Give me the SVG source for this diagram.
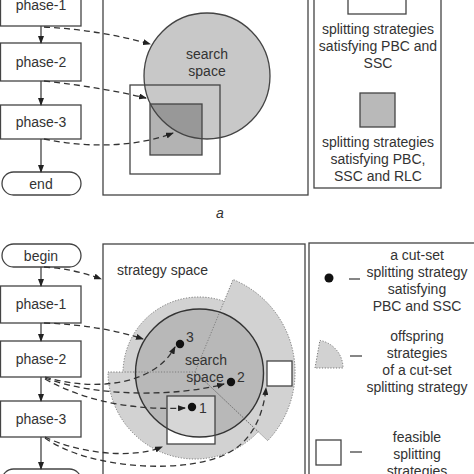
<svg xmlns="http://www.w3.org/2000/svg" width="474" height="474" viewBox="0 0 474 474">
<defs>
<style>
.t{font-family:"Liberation Sans",Arial,sans-serif;font-size:14px;fill:#333}
.c{text-anchor:middle}
.box{fill:#fff;stroke:#444;stroke-width:1.3}
.ln{fill:none;stroke:#444;stroke-width:1.3}
.dash{fill:none;stroke:#333;stroke-width:1.3;stroke-dasharray:6 4}
.dot{stroke:#777;stroke-width:1;stroke-dasharray:1.2 1.6}
</style>
<marker id="ah" markerWidth="8" markerHeight="6" refX="7" refY="3" orient="auto" markerUnits="userSpaceOnUse">
<path d="M0,0 L8,3 L0,6 Z" fill="#222"/>
</marker>
<clipPath id="topc"><circle cx="207" cy="76" r="63"/></clipPath>
</defs>

<!-- top flowchart -->
<g id="t-phase1"><rect class="box" x="0.5" y="-11" width="80.5" height="37"/><text class="t c" x="41" y="10">phase-1</text></g>
<g id="t-phase2"><rect class="box" x="0.5" y="43" width="80.5" height="38"/><text class="t c" x="41" y="67">phase-2</text></g>
<g id="t-phase3"><rect class="box" x="0.5" y="105" width="80.5" height="34"/><text class="t c" x="41" y="127">phase-3</text></g>
<g id="t-end"><rect class="box" x="2" y="172" width="79" height="23" rx="11.5"/><text class="t c" x="41" y="189">end</text></g>

<!-- top space -->
<g id="t-space">
<rect class="box" x="103" y="-5" width="205" height="200"/>
<rect x="150" y="104" width="52" height="51" fill="#b3b3b3"/>
<circle cx="207" cy="76" r="63" fill="#6a6a6a" fill-opacity="0.37"/>
<rect class="ln" x="130" y="85" width="90" height="89"/>
<rect class="ln" x="150" y="104" width="52" height="51"/>
<circle class="ln" cx="207" cy="76" r="63"/>
<text class="t c" x="207" y="59">search</text>
<text class="t c" x="207" y="76">space</text>
</g>
<text class="t" x="216" y="218" font-style="italic">a</text>

<!-- top legend -->
<g id="t-legend">
<rect class="box" x="314" y="-5" width="127" height="193"/>
<rect class="box" x="348" y="-20" width="58" height="34"/>
<text class="t c" x="378" y="34">splitting strategies</text>
<text class="t c" x="378" y="51">satisfying PBC and</text>
<text class="t c" x="378" y="68">SSC</text>
<rect x="360" y="93" width="35" height="34" fill="#b9b9b9" stroke="#444" stroke-width="1.3"/>
<text class="t c" x="378" y="147">splitting strategies</text>
<text class="t c" x="378" y="164">satisfying PBC,</text>
<text class="t c" x="378" y="181">SSC and RLC</text>
</g>

<!-- bottom flowchart -->
<g id="b-begin"><rect class="box" x="2" y="244" width="79" height="23" rx="11.5"/><text class="t c" x="41" y="261">begin</text></g>
<g id="b-phase1"><rect class="box" x="0.5" y="286" width="80.5" height="37"/><text class="t c" x="41" y="309">phase-1</text></g>
<g id="b-phase2"><rect class="box" x="0.5" y="341" width="80.5" height="36"/><text class="t c" x="41" y="364">phase-2</text></g>
<g id="b-phase3"><rect class="box" x="0.5" y="401" width="80.5" height="36"/><text class="t c" x="41" y="424">phase-3</text></g>
<g id="b-end"><rect class="box" x="2" y="469" width="79" height="23" rx="11.5"/></g>

<!-- bottom strategy space -->
<g id="b-space">
<rect class="box" x="103" y="244" width="202" height="240"/>
<text class="t" x="117" y="275">strategy space</text>
<circle cx="199" cy="373" r="76" fill="#d2d2d2" class="dot"/>
<path d="M195,372 L258.2,431.8 A87,87 0 0 1 108,372 Z" fill="#d2d2d2"/>
<path d="M195,372 L233.1,279.5 A100,100 0 0 1 267.7,440.7 Z" fill="#d2d2d2"/>
<path d="M195,372 L258.2,431.8 A87,87 0 0 1 108,372 Z" fill="none" class="dot"/>
<path d="M195,372 L233.1,279.5 A100,100 0 0 1 267.7,440.7 Z" fill="none" class="dot"/>
<rect x="167" y="396" width="48" height="48" fill="#fff"/>
<circle cx="199.5" cy="373" r="64" fill="#8a8a8a" fill-opacity="0.35" stroke="#333" stroke-width="1.4"/>
<rect class="ln" x="167" y="396" width="48" height="48"/>
<rect class="box" x="267" y="361" width="25" height="25"/>
<circle cx="180" cy="344" r="4.2" fill="#111"/>
<circle cx="231" cy="382" r="4.2" fill="#111"/>
<circle cx="192" cy="407" r="4.2" fill="#111"/>
<text class="t" x="186" y="342">3</text>
<text class="t c" x="206" y="365">search</text>
<text class="t c" x="205" y="382">space</text>
<text class="t" x="237" y="382">2</text>
<text class="t" x="199" y="413">1</text>
</g>

<!-- bottom legend -->
<g id="b-legend">
<rect class="box" x="309" y="243" width="170" height="240"/>
<circle cx="329" cy="278" r="4.5" fill="#111"/>
<line class="ln" x1="349" y1="279" x2="360" y2="279"/>
<text class="t c" x="417" y="260">a cut-set</text>
<text class="t c" x="417" y="277">splitting strategy</text>
<text class="t c" x="417" y="294">satisfying</text>
<text class="t c" x="417" y="311">PBC and SSC</text>
<path d="M315,368 L319.9,340.4 A28,28 0 0 1 343,368 Z" fill="#d2d2d2" class="dot"/>
<line class="ln" x1="350" y1="356" x2="362" y2="356"/>
<text class="t c" x="417" y="341">offspring</text>
<text class="t c" x="417" y="358">strategies</text>
<text class="t c" x="417" y="375">of a cut-set</text>
<text class="t c" x="417" y="392">splitting strategy</text>
<rect class="box" x="316" y="440" width="25" height="25"/>
<line class="ln" x1="350" y1="452" x2="362" y2="452"/>
<text class="t c" x="417" y="442">feasible</text>
<text class="t c" x="417" y="459">splitting</text>
<text class="t c" x="417" y="476">strategies</text>
</g>

<!-- connectors -->
<g id="connectors">
<line class="ln" x1="41" y1="26" x2="41" y2="43" marker-end="url(#ah)"/>
<line class="ln" x1="41" y1="81" x2="41" y2="105" marker-end="url(#ah)"/>
<line class="ln" x1="41" y1="139" x2="41" y2="172" marker-end="url(#ah)"/>
<line class="ln" x1="41" y1="267" x2="41" y2="286" marker-end="url(#ah)"/>
<line class="ln" x1="41" y1="323" x2="41" y2="341" marker-end="url(#ah)"/>
<line class="ln" x1="41" y1="377" x2="41" y2="401" marker-end="url(#ah)"/>
<line class="ln" x1="41" y1="437" x2="41" y2="469" marker-end="url(#ah)"/>
<path class="dash" d="M44,27 Q100,30 150,44" marker-end="url(#ah)"/>
<path class="dash" d="M44,81 Q100,87 146,98" marker-end="url(#ah)"/>
<path class="dash" d="M44,139 C90,149 140,146 173,133" marker-end="url(#ah)"/>
<path class="dash" d="M44,267 Q75,269 101,279" marker-end="url(#ah)"/>
<path class="dash" d="M44,323 Q100,325 143,339" marker-end="url(#ah)"/>
<path class="dash" d="M45,377 C95,392 155,385 175,347" marker-end="url(#ah)"/>
<path class="dash" d="M45,378 C100,398 180,396 224,384" marker-end="url(#ah)"/>
<path class="dash" d="M45,379 C90,404 140,410 185,408" marker-end="url(#ah)"/>
<path class="dash" d="M45,437 C75,452 130,460 162,447" marker-end="url(#ah)"/>
<path class="dash" d="M45,438 C90,470 190,475 230,452 C255,438 264,410 266,388" marker-end="url(#ah)"/>
</g>
</svg>
